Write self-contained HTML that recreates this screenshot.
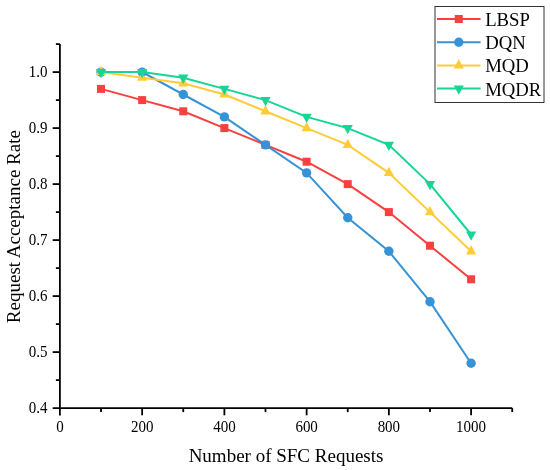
<!DOCTYPE html>
<html><head><meta charset="utf-8"><style>
html,body{margin:0;padding:0;background:#fff;width:550px;height:470px;overflow:hidden}
svg{display:block}
.t{font-family:"Liberation Serif","Times New Roman",serif;font-size:15.7px;fill:#000}
.ti{font-family:"Liberation Serif","Times New Roman",serif;font-size:19px;fill:#000}
.lg{font-family:"Liberation Serif","Times New Roman",serif;font-size:18.7px;fill:#000}
</style></head><body>
<svg width="550" height="470" viewBox="0 0 550 470">
<rect width="550" height="470" fill="#fff"/>
<polyline points="101.02,88.90 142.14,100.10 183.26,111.30 224.38,128.10 265.50,144.90 306.62,161.70 347.74,184.10 388.86,212.10 429.98,245.70 471.10,279.30" fill="none" stroke="#F8403F" stroke-width="2.0" stroke-linejoin="miter"/>
<rect x="97.02" y="84.90" width="8.0" height="8.0" fill="#F8403F"/>
<rect x="138.14" y="96.10" width="8.0" height="8.0" fill="#F8403F"/>
<rect x="179.26" y="107.30" width="8.0" height="8.0" fill="#F8403F"/>
<rect x="220.38" y="124.10" width="8.0" height="8.0" fill="#F8403F"/>
<rect x="261.50" y="140.90" width="8.0" height="8.0" fill="#F8403F"/>
<rect x="302.62" y="157.70" width="8.0" height="8.0" fill="#F8403F"/>
<rect x="343.74" y="180.10" width="8.0" height="8.0" fill="#F8403F"/>
<rect x="384.86" y="208.10" width="8.0" height="8.0" fill="#F8403F"/>
<rect x="425.98" y="241.70" width="8.0" height="8.0" fill="#F8403F"/>
<rect x="467.10" y="275.30" width="8.0" height="8.0" fill="#F8403F"/>
<polyline points="101.02,72.10 142.14,72.10 183.26,94.50 224.38,116.90 265.50,144.90 306.62,172.90 347.74,217.70 388.86,251.30 429.98,301.70 471.10,363.30" fill="none" stroke="#3793D6" stroke-width="2.0" stroke-linejoin="miter"/>
<circle cx="101.02" cy="72.10" r="4.7" fill="#3793D6"/>
<circle cx="142.14" cy="72.10" r="4.7" fill="#3793D6"/>
<circle cx="183.26" cy="94.50" r="4.7" fill="#3793D6"/>
<circle cx="224.38" cy="116.90" r="4.7" fill="#3793D6"/>
<circle cx="265.50" cy="144.90" r="4.7" fill="#3793D6"/>
<circle cx="306.62" cy="172.90" r="4.7" fill="#3793D6"/>
<circle cx="347.74" cy="217.70" r="4.7" fill="#3793D6"/>
<circle cx="388.86" cy="251.30" r="4.7" fill="#3793D6"/>
<circle cx="429.98" cy="301.70" r="4.7" fill="#3793D6"/>
<circle cx="471.10" cy="363.30" r="4.7" fill="#3793D6"/>
<polyline points="101.02,72.10 142.14,77.70 183.26,83.30 224.38,94.50 265.50,111.30 306.62,128.10 347.74,144.90 388.86,172.90 429.98,212.10 471.10,251.30" fill="none" stroke="#FFCC38" stroke-width="2.0" stroke-linejoin="miter"/>
<polygon points="101.02,65.90 106.12,75.20 95.92,75.20" fill="#FFCC38"/>
<polygon points="142.14,71.50 147.24,80.80 137.04,80.80" fill="#FFCC38"/>
<polygon points="183.26,77.10 188.36,86.40 178.16,86.40" fill="#FFCC38"/>
<polygon points="224.38,88.30 229.48,97.60 219.28,97.60" fill="#FFCC38"/>
<polygon points="265.50,105.10 270.60,114.40 260.40,114.40" fill="#FFCC38"/>
<polygon points="306.62,121.90 311.72,131.20 301.52,131.20" fill="#FFCC38"/>
<polygon points="347.74,138.70 352.84,148.00 342.64,148.00" fill="#FFCC38"/>
<polygon points="388.86,166.70 393.96,176.00 383.76,176.00" fill="#FFCC38"/>
<polygon points="429.98,205.90 435.08,215.20 424.88,215.20" fill="#FFCC38"/>
<polygon points="471.10,245.10 476.20,254.40 466.00,254.40" fill="#FFCC38"/>
<polyline points="101.02,72.10 142.14,72.10 183.26,77.70 224.38,88.90 265.50,100.10 306.62,116.90 347.74,128.10 388.86,144.90 429.98,184.10 471.10,234.50" fill="none" stroke="#18D495" stroke-width="2.0" stroke-linejoin="miter"/>
<polygon points="101.02,78.30 106.12,69.00 95.92,69.00" fill="#18D495"/>
<polygon points="142.14,78.30 147.24,69.00 137.04,69.00" fill="#18D495"/>
<polygon points="183.26,83.90 188.36,74.60 178.16,74.60" fill="#18D495"/>
<polygon points="224.38,95.10 229.48,85.80 219.28,85.80" fill="#18D495"/>
<polygon points="265.50,106.30 270.60,97.00 260.40,97.00" fill="#18D495"/>
<polygon points="306.62,123.10 311.72,113.80 301.52,113.80" fill="#18D495"/>
<polygon points="347.74,134.30 352.84,125.00 342.64,125.00" fill="#18D495"/>
<polygon points="388.86,151.10 393.96,141.80 383.76,141.80" fill="#18D495"/>
<polygon points="429.98,190.30 435.08,181.00 424.88,181.00" fill="#18D495"/>
<polygon points="471.10,240.70 476.20,231.40 466.00,231.40" fill="#18D495"/>
<line x1="59.90" y1="44.10" x2="59.90" y2="415.40" stroke="#000" stroke-width="1.8"/>
<line x1="52.70" y1="408.10" x2="512.22" y2="408.10" stroke="#000" stroke-width="1.8"/>
<line x1="55.90" y1="380.10" x2="59.90" y2="380.10" stroke="#000" stroke-width="1.8"/>
<line x1="52.70" y1="352.10" x2="59.90" y2="352.10" stroke="#000" stroke-width="1.8"/>
<line x1="55.90" y1="324.10" x2="59.90" y2="324.10" stroke="#000" stroke-width="1.8"/>
<line x1="52.70" y1="296.10" x2="59.90" y2="296.10" stroke="#000" stroke-width="1.8"/>
<line x1="55.90" y1="268.10" x2="59.90" y2="268.10" stroke="#000" stroke-width="1.8"/>
<line x1="52.70" y1="240.10" x2="59.90" y2="240.10" stroke="#000" stroke-width="1.8"/>
<line x1="55.90" y1="212.10" x2="59.90" y2="212.10" stroke="#000" stroke-width="1.8"/>
<line x1="52.70" y1="184.10" x2="59.90" y2="184.10" stroke="#000" stroke-width="1.8"/>
<line x1="55.90" y1="156.10" x2="59.90" y2="156.10" stroke="#000" stroke-width="1.8"/>
<line x1="52.70" y1="128.10" x2="59.90" y2="128.10" stroke="#000" stroke-width="1.8"/>
<line x1="55.90" y1="100.10" x2="59.90" y2="100.10" stroke="#000" stroke-width="1.8"/>
<line x1="52.70" y1="72.10" x2="59.90" y2="72.10" stroke="#000" stroke-width="1.8"/>
<line x1="55.90" y1="44.10" x2="59.90" y2="44.10" stroke="#000" stroke-width="1.8"/>
<line x1="101.02" y1="408.10" x2="101.02" y2="412.10" stroke="#000" stroke-width="1.8"/>
<line x1="142.14" y1="408.10" x2="142.14" y2="415.30" stroke="#000" stroke-width="1.8"/>
<line x1="183.26" y1="408.10" x2="183.26" y2="412.10" stroke="#000" stroke-width="1.8"/>
<line x1="224.38" y1="408.10" x2="224.38" y2="415.30" stroke="#000" stroke-width="1.8"/>
<line x1="265.50" y1="408.10" x2="265.50" y2="412.10" stroke="#000" stroke-width="1.8"/>
<line x1="306.62" y1="408.10" x2="306.62" y2="415.30" stroke="#000" stroke-width="1.8"/>
<line x1="347.74" y1="408.10" x2="347.74" y2="412.10" stroke="#000" stroke-width="1.8"/>
<line x1="388.86" y1="408.10" x2="388.86" y2="415.30" stroke="#000" stroke-width="1.8"/>
<line x1="429.98" y1="408.10" x2="429.98" y2="412.10" stroke="#000" stroke-width="1.8"/>
<line x1="471.10" y1="408.10" x2="471.10" y2="415.30" stroke="#000" stroke-width="1.8"/>
<line x1="512.22" y1="408.10" x2="512.22" y2="412.10" stroke="#000" stroke-width="1.8"/>
<text transform="translate(47.4,412.60) scale(0.955,1)" text-anchor="end" class="t">0.4</text>
<text transform="translate(47.4,356.60) scale(0.955,1)" text-anchor="end" class="t">0.5</text>
<text transform="translate(47.4,300.60) scale(0.955,1)" text-anchor="end" class="t">0.6</text>
<text transform="translate(47.4,244.60) scale(0.955,1)" text-anchor="end" class="t">0.7</text>
<text transform="translate(47.4,188.60) scale(0.955,1)" text-anchor="end" class="t">0.8</text>
<text transform="translate(47.4,132.60) scale(0.955,1)" text-anchor="end" class="t">0.9</text>
<text transform="translate(47.4,76.60) scale(0.955,1)" text-anchor="end" class="t">1.0</text>
<text transform="translate(59.90,432) scale(0.955,1)" text-anchor="middle" class="t">0</text>
<text transform="translate(142.14,432) scale(0.955,1)" text-anchor="middle" class="t">200</text>
<text transform="translate(224.38,432) scale(0.955,1)" text-anchor="middle" class="t">400</text>
<text transform="translate(306.62,432) scale(0.955,1)" text-anchor="middle" class="t">600</text>
<text transform="translate(388.86,432) scale(0.955,1)" text-anchor="middle" class="t">800</text>
<text transform="translate(471.10,432) scale(0.955,1)" text-anchor="middle" class="t">1000</text>
<text x="286" y="461.5" text-anchor="middle" class="ti">Number of SFC Requests</text>
<text transform="translate(20.2,226.6) rotate(-90)" text-anchor="middle" class="ti">Request Acceptance Rate</text>
<rect x="435" y="6.5" width="109" height="96" fill="#fff" stroke="#333" stroke-width="1"/>
<line x1="437" y1="19.0" x2="480.6" y2="19.0" stroke="#F8403F" stroke-width="2.0"/>
<rect x="454.80" y="15.00" width="8.0" height="8.0" fill="#F8403F"/>
<text x="485.2" y="25.7" class="lg">LBSP</text>
<line x1="437" y1="42.3" x2="480.6" y2="42.3" stroke="#3793D6" stroke-width="2.0"/>
<circle cx="458.80" cy="42.30" r="4.7" fill="#3793D6"/>
<text x="485.2" y="48.9" class="lg">DQN</text>
<line x1="437" y1="65.5" x2="480.6" y2="65.5" stroke="#FFCC38" stroke-width="2.0"/>
<polygon points="458.80,59.30 463.90,68.60 453.70,68.60" fill="#FFCC38"/>
<text x="485.2" y="72.1" class="lg">MQD</text>
<line x1="437" y1="88.6" x2="480.6" y2="88.6" stroke="#18D495" stroke-width="2.0"/>
<polygon points="458.80,94.80 463.90,85.50 453.70,85.50" fill="#18D495"/>
<text x="485.2" y="95.8" class="lg">MQDR</text>
</svg>
</body></html>
